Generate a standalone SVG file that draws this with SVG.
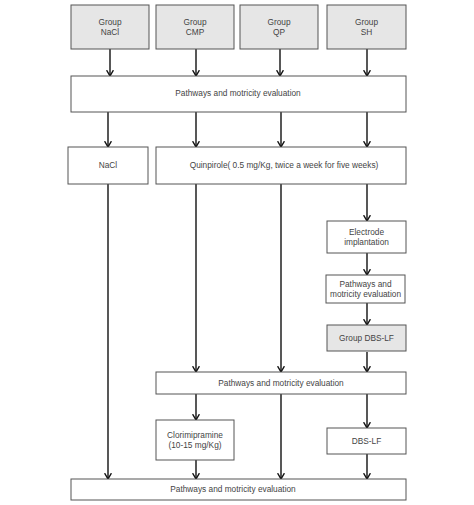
<svg xmlns="http://www.w3.org/2000/svg" width="474" height="505" viewBox="0 0 474 505">
<defs>
<marker id="arr" viewBox="0 0 7 8" refX="6.3" refY="4" markerWidth="7" markerHeight="8" markerUnits="userSpaceOnUse" orient="auto">
<path d="M0.5,0.6 L6.3,4 L0.5,7.4" fill="none" stroke="#111" stroke-width="1.4"/>
</marker>
</defs>
<style>
rect{fill:#fff;stroke:#555;stroke-width:1}
rect.g{fill:#e6e6e6}
text{font-family:"Liberation Sans",Arial,sans-serif;font-size:8.3px;fill:#444;text-anchor:middle}
#connectors line{stroke:#111;stroke-width:1.4}
#connectors line.a{marker-end:url(#arr)}
</style>
<rect x="0" y="0" width="474" height="505" style="fill:#fff;stroke:none"/>
<g id="connectors">
<line class="a" x1="110" y1="49" x2="110" y2="76"/>
<line class="a" x1="196" y1="49" x2="196" y2="76"/>
<line class="a" x1="280" y1="49" x2="280" y2="76"/>
<line class="a" x1="367" y1="49" x2="367" y2="76"/>
<line class="a" x1="108" y1="112" x2="108" y2="147"/>
<line class="a" x1="196" y1="112" x2="196" y2="147"/>
<line class="a" x1="281" y1="112" x2="281" y2="147"/>
<line class="a" x1="367" y1="112" x2="367" y2="147"/>
<line class="a" x1="108" y1="184" x2="108" y2="479"/>
<line class="a" x1="196" y1="184" x2="196" y2="372"/>
<line class="a" x1="281" y1="184" x2="281" y2="372"/>
<line class="a" x1="367" y1="184" x2="367" y2="221"/>
<line class="a" x1="367" y1="253" x2="367" y2="275"/>
<line class="a" x1="367" y1="303" x2="367" y2="325"/>
<line class="a" x1="367" y1="352" x2="367" y2="372"/>
<line class="a" x1="196" y1="394" x2="196" y2="420"/>
<line class="a" x1="196" y1="460" x2="196" y2="479"/>
<line class="a" x1="281" y1="394" x2="281" y2="479"/>
<line class="a" x1="367" y1="394" x2="367" y2="428"/>
<line class="a" x1="367" y1="454" x2="367" y2="479"/>
</g>
<g id="group-nacl"><rect class="g" x="71" y="5" width="78" height="44"/><text x="110" y="25">Group</text><text x="110" y="35">NaCl</text></g>
<g id="group-cmp"><rect class="g" x="156" y="5" width="78" height="44"/><text x="195" y="25">Group</text><text x="195" y="35">CMP</text></g>
<g id="group-qp"><rect class="g" x="240" y="5" width="78" height="44"/><text x="279" y="25">Group</text><text x="279" y="35">QP</text></g>
<g id="group-sh"><rect class="g" x="327" y="5" width="79" height="44"/><text x="366.5" y="25">Group</text><text x="366.5" y="35">SH</text></g>
<g id="eval1"><rect x="71" y="76" width="335" height="36"/><text x="238" y="96">Pathways and motricity evaluation</text></g>
<g id="nacl"><rect x="68" y="147" width="80" height="37"/><text x="108" y="168">NaCl</text></g>
<g id="quinpirole"><rect x="156" y="147" width="250" height="37"/><text x="284" y="168">Quinpirole( 0.5 mg/Kg, twice a week for five weeks)</text></g>
<g id="electrode"><rect x="327" y="221" width="79" height="32"/><text x="366.5" y="235">Electrode</text><text x="366.5" y="245">implantation</text></g>
<g id="eval-sh"><rect x="326" y="275" width="79" height="28"/><text x="365.5" y="287">Pathways and</text><text x="365.5" y="297">motricity evaluation</text></g>
<g id="group-dbs"><rect class="g" x="327" y="325" width="79" height="26"/><text x="366.5" y="341">Group DBS-LF</text></g>
<g id="eval2"><rect x="156" y="372" width="250" height="22"/><text x="281" y="386">Pathways and motricity evaluation</text></g>
<g id="clorimipramine"><rect x="156" y="420" width="78" height="40"/><text x="195" y="438">Clorimipramine</text><text x="195" y="448">(10-15 mg/Kg)</text></g>
<g id="dbs-lf"><rect x="327" y="428" width="79" height="26"/><text x="366.5" y="444">DBS-LF</text></g>
<g id="eval3"><rect x="71" y="479" width="335" height="21"/><text x="233" y="492">Pathways and motricity evaluation</text></g>
</svg>
